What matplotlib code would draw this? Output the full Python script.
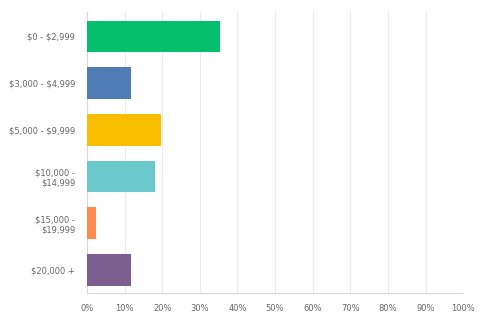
import matplotlib
matplotlib.use("Agg")
from matplotlib import pyplot as plt
from matplotlib.ticker import FuncFormatter

categories = ["\\$0 - \\$2,999", "\\$3,000 - \\$4,999", "\\$5,000 - \\$9,999",
              "\\$10,000 -\n\\$14,999", "\\$15,000 -\n\\$19,999", "\\$20,000 +"]
values = [35.4, 11.8, 19.7, 18.2, 2.4, 11.8]
colors = ["#05BF6C", "#507CB6", "#F9BE00", "#6BC8CD", "#FF8B4F", "#7D5E90"]

fig = plt.figure(figsize=(4.8, 3.2), dpi=100)
ax = fig.add_axes([0.181, 0.084, 0.784, 0.878])

y = list(range(len(categories)))
ax.barh(y, values, height=0.68, color=colors, zorder=3)
ax.set_ylim(5.5, -0.52)
ax.set_xlim(0, 100)
ax.set_xticks(range(0, 101, 10))
ax.xaxis.set_major_formatter(FuncFormatter(lambda v, p: "%d%%" % v))
ax.set_yticks(y)
ax.set_yticklabels(categories, ha="right", multialignment="right")

ax.grid(axis="x", color="#EBEBEB", linewidth=0.8, zorder=0)
for s in ["top", "right"]:
    ax.spines[s].set_visible(False)
ax.spines["left"].set_color("#D8D8D8")
ax.spines["bottom"].set_color("#D8D8D8")
ax.tick_params(length=0, labelsize=6, labelcolor="#666666")
ax.tick_params(axis="y", pad=8.5)
ax.tick_params(axis="x", pad=8)

fig.savefig("out.png", dpi=100)
